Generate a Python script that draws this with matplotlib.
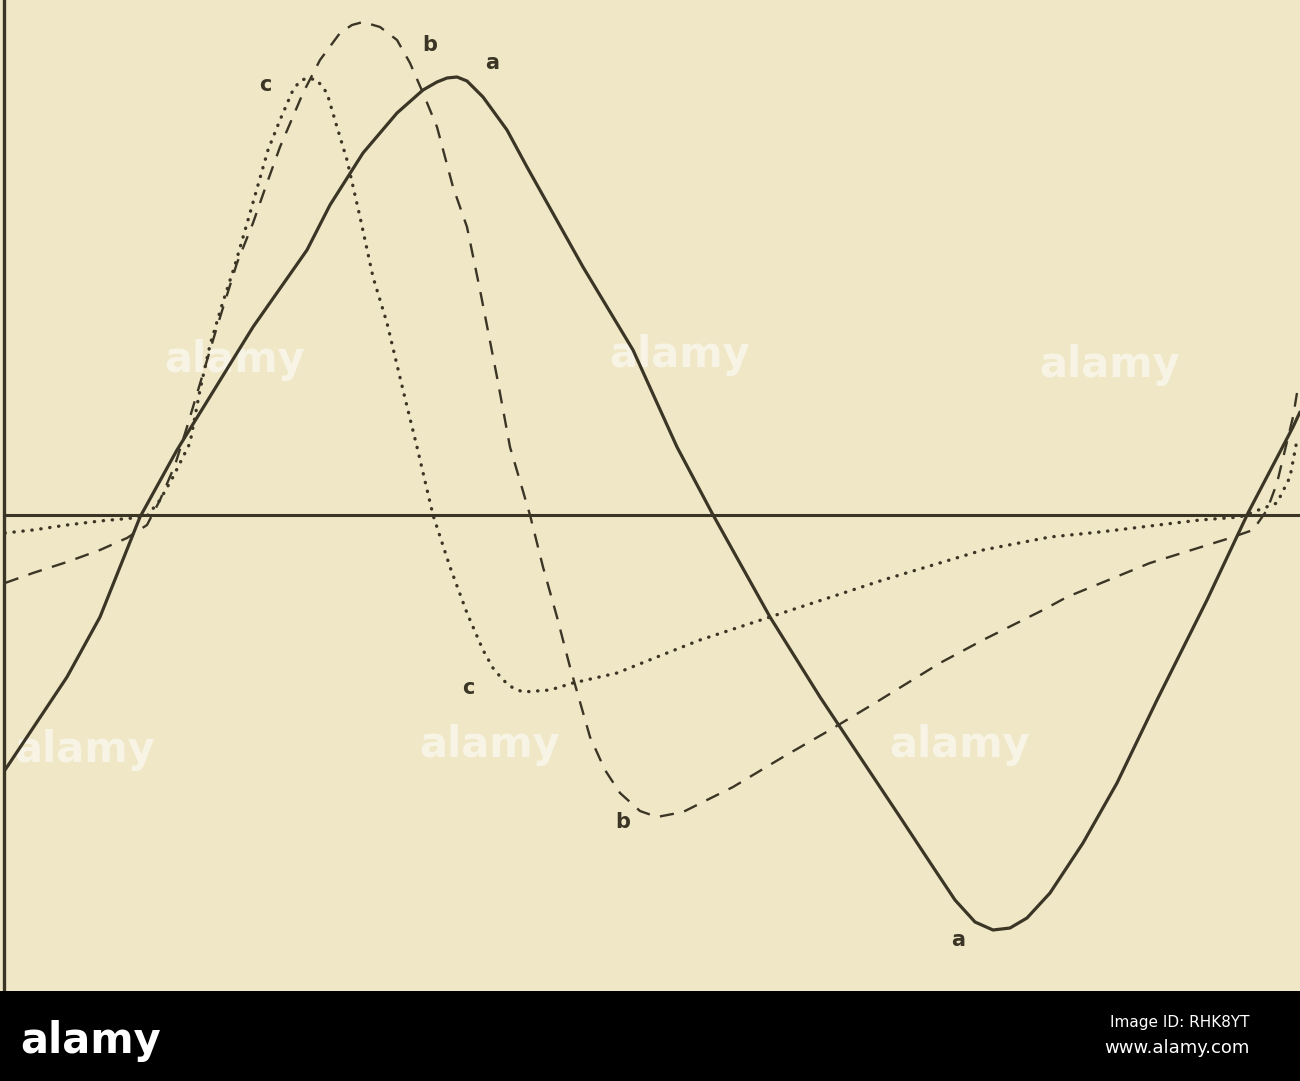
import matplotlib.pyplot as plt

# 曲線データ（横: 時間の目盛り単位, 縦: 基線からの振れ）
a_x = [5, 67, 100, 140, 177, 253, 307, 330, 363, 397, 423, 437, 447, 457, 467, 483, 507, 527,
       583, 633, 677, 712, 770, 820, 900, 933, 955, 975, 993, 1010, 1027, 1050, 1083, 1117,
       1157, 1207, 1248, 1293, 1300]
a_y = [-255, -162, -102, -2, 65, 188, 265, 310, 362, 402, 425, 433, 437, 438, 434, 418, 385, 348,
       248, 165, 68, 2, -102, -182, -302, -352, -385, -407, -415, -413, -403, -378, -328, -268,
       -185, -85, 2, 88, 103]

b_x = [5, 33, 67, 100, 127, 147, 160, 175, 187, 217, 237, 253, 267, 280, 303, 320,
       340, 352, 363, 380, 397, 410, 423, 437, 453, 467, 480, 497, 510, 530, 543, 557,
       570, 590, 605, 620, 640, 657, 683, 733, 783, 830, 875, 940, 983, 1043, 1067, 1150,
       1230, 1253, 1267, 1277, 1293, 1297]
b_y = [-68, -58, -47, -35, -23, -10, 15, 50, 88, 188, 252, 292, 332, 368, 422, 455,
       482, 490, 493, 488, 475, 452, 422, 388, 328, 288, 225, 138, 68, 0, -52, -102,
       -152, -222, -255, -278, -296, -302, -297, -272, -242, -215, -188, -148, -125, -95, -82, -48,
       -23, -15, 5, 32, 98, 122]

c_x = [5, 33, 67, 100, 133, 147, 160, 173, 190, 200, 210, 222, 235, 248, 258, 268,
       280, 293, 300, 307, 317, 327, 337, 347, 360, 373, 387, 403, 417, 433, 450, 467,
       483, 493, 503, 513, 523, 550, 573, 617, 667, 700, 770, 883, 983, 1050, 1100, 1200,
       1240, 1277, 1290, 1297]
c_y = [-18, -15, -10, -6, -3, -1, 15, 38, 72, 125, 170, 210, 250, 295, 330, 365,
       395, 425, 434, 437, 435, 422, 388, 355, 298, 238, 192, 125, 68, 0, -52, -98,
       -135, -153, -165, -173, -177, -175, -168, -158, -138, -125, -102, -65, -35, -22, -17, -5,
       -2, 12, 38, 75]

# 曲線の記号（a: 実線, b: 破線, c: 点線）
label_names = ["c", "b", "a", "c", "b", "a"]
label_x = [265, 430, 492, 468, 623, 958]
label_y = [430, 470, 452, -173, -307, -425]

bg = "#efe7c6"
ink = "#3b3526"

fig = plt.figure(figsize=(13, 10.81), dpi=100)
fig.patch.set_facecolor("black")

ax = fig.add_axes([0, 90 / 1081, 1, 991 / 1081])
ax.set_facecolor(bg)
ax.set_xlim(0, 1300)
ax.set_ylim(-476, 515)
ax.axis("off")
ax.add_patch(plt.Rectangle((0, -476), 1300, 991, color=bg, zorder=0))

# 座標軸
ax.axhline(0, xmin=4 / 1300, color=ink, lw=2.2, zorder=2)
ax.axvline(4, color=ink, lw=2.4, zorder=2)

ax.plot(a_x, a_y, color=ink, lw=2.3, solid_capstyle="round", solid_joinstyle="round", zorder=3)
ax.plot(b_x, b_y, color=ink, lw=1.7, linestyle=(0, (6, 4.5)), zorder=3)
ax.plot(c_x, c_y, color=ink, lw=2.4, linestyle=(0, (0.1, 2.6)),
        dash_capstyle="round", zorder=3)

for t, x, y in zip(label_names, label_x, label_y):
    ax.text(x, y, t, color=ink, fontsize=15, fontweight="bold",
            ha="center", va="center", zorder=4)

# 透かし
wm = [(235, 155), (680, 160), (1110, 150), (85, -235), (490, -230), (960, -230)]
for x, y in wm:
    ax.text(x, y, "alamy", color="white", alpha=0.55, fontsize=30,
            fontweight="bold", ha="center", va="center", zorder=1)

# 下の帯
fig.text(20 / 1300, 40 / 1081, "alamy", color="white", fontsize=30, fontweight="bold",
         va="center", ha="left")
fig.text(1250 / 1300, 58 / 1081, "Image ID: RHK8YT", color="white", fontsize=11,
         va="center", ha="right")
fig.text(1250 / 1300, 33 / 1081, "www.alamy.com", color="white", fontsize=13,
         va="center", ha="right")

fig.savefig("out.png", dpi=100, facecolor=fig.get_facecolor())
